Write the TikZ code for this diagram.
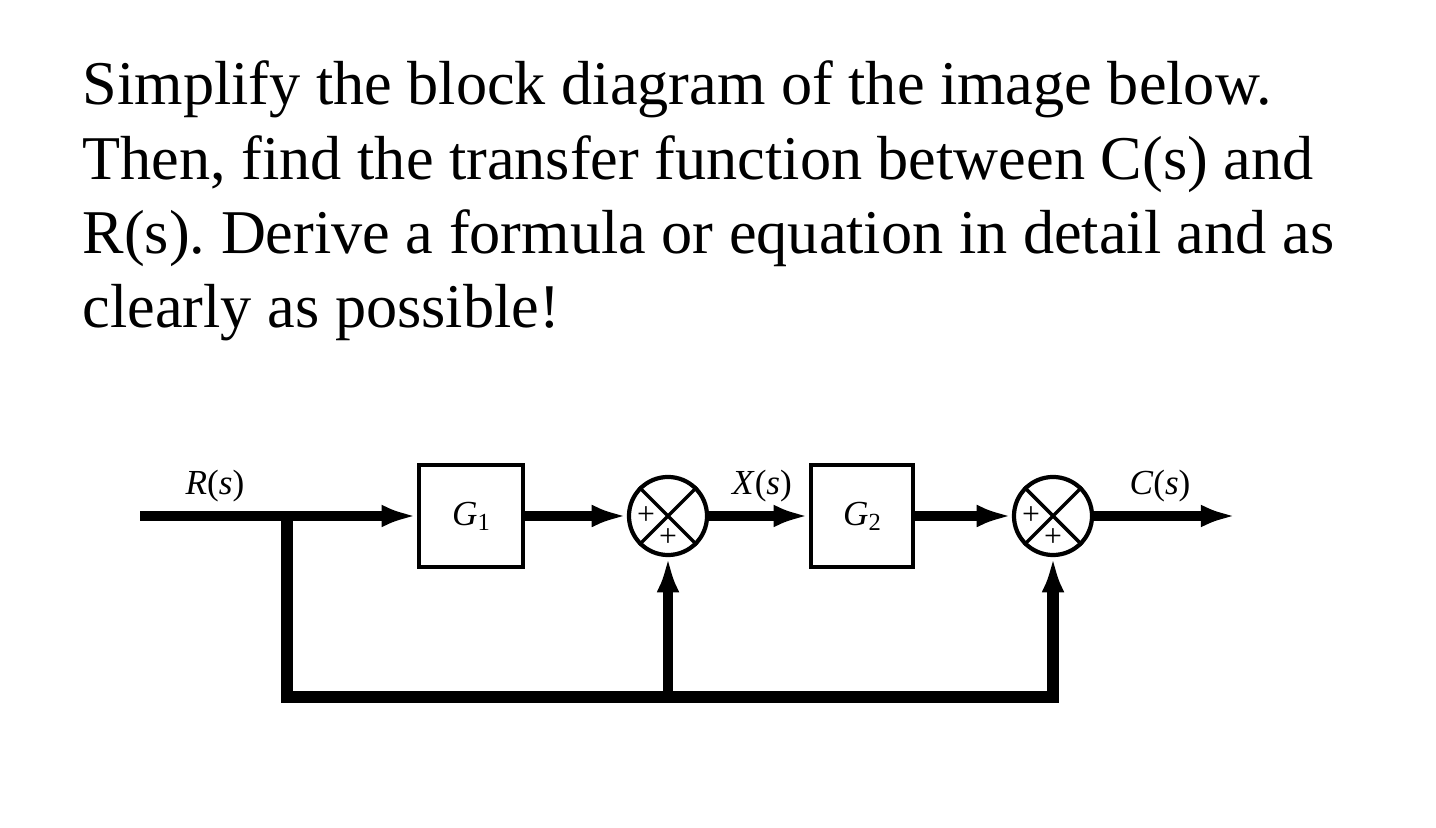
\documentclass[tikz,border=0pt]{standalone}
\usepackage{fontspec}
\setmainfont{Liberation Serif}
\usetikzlibrary{arrows.meta}
\begin{document}
\begin{tikzpicture}[x=0.01cm,y=-0.01cm,
  txt/.style={anchor=base west,inner sep=0,font=\fontsize{17.7}{21}\selectfont},
  lbl/.style={inner sep=0,font=\fontsize{10}{12}\selectfont},
  sumj/.style={draw,circle,line width=1.2pt,minimum size=0.78cm,inner sep=0},
  sig/.style={line width=2.8pt},
  fb/.style={line width=3.3pt},
  arr/.style={-{Latex[length=10pt,width=6.5pt]}}]
\useasboundingbox (0,0) rectangle (1436,828);
\node[txt] (l1) at (82,105) {Simplify the block diagram of the image below.};
\node[txt] (l2) at (82,180) {Then, find the transfer function between C(s) and};
\node[txt] (l3) at (82,254) {R(s).\ Derive a formula or equation in detail and as};
\node[txt] (l4) at (82,328) {clearly as possible!};

\node[draw,line width=1.3pt,minimum width=1.04cm,minimum height=1.02cm,inner sep=0] (g1) at (471,516) {};
\node[lbl] at (g1) {\textit{G}\raisebox{-0.3ex}{\scriptsize 1}};
\node[draw,line width=1.3pt,minimum width=1.02cm,minimum height=1.02cm,inner sep=0] (g2) at (862,516) {};
\node[lbl] at (g2) {\textit{G}\raisebox{-0.3ex}{\scriptsize 2}};
\node[sumj] (s1) at (668,516) {};
\node[sumj] (s2) at (1053,516) {};
\foreach \s in {s1,s2}{
  \draw[line width=1pt] (\s.45) -- (\s.225) (\s.135) -- (\s.315);
  \node[inner sep=0,font=\fontsize{9}{10}\selectfont] at ([xshift=-0.22cm]\s.center) {+};
  \node[inner sep=0,font=\fontsize{9}{10}\selectfont] at ([yshift=-0.22cm]\s.center) {+};
}
\coordinate (in) at (140,516);
\coordinate (j) at (287,516);
\coordinate (bl) at (287,697);
\coordinate (bm) at (668,697);
\coordinate (br) at (1053,697);
\coordinate (out) at (1236,516);

\draw[sig] (in) -- (j);
\draw[sig,arr] (j) -- (g1.west);
\draw[sig,arr] (g1.east) -- (s1.west);
\draw[sig,arr] (s1.east) -- (g2.west);
\draw[sig,arr] (g2.east) -- (s2.west);
\draw[sig,arr] (s2.east) -- (out);
\draw[fb,line join=miter,arr] (j) -- (bl) -- (br) -- (s2.south);
\draw[line width=3pt,arr] (bm) -- (s1.south);

\node[lbl] (rl) at (215,486) {\textit{R}(\textit{s})};
\node[lbl] (xl) at (762,486) {\textit{X}(\textit{s})};
\node[lbl] (cl) at (1160,486) {\textit{C}(\textit{s})};
\end{tikzpicture}
\end{document}
